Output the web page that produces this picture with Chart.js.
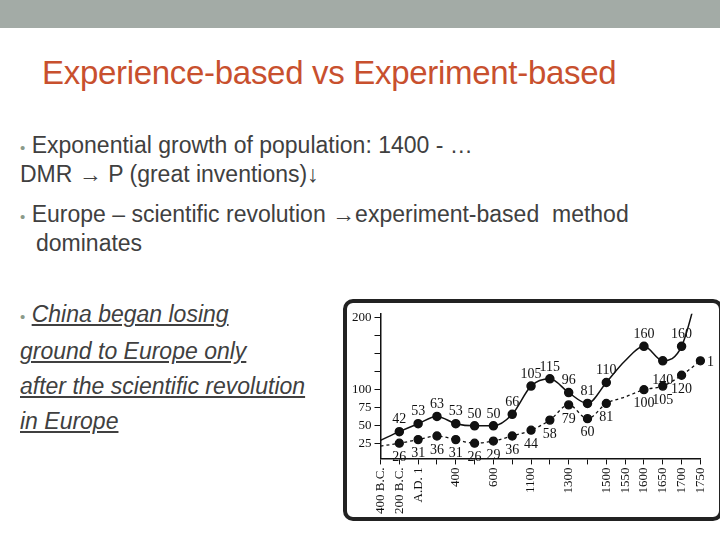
<!DOCTYPE html>
<html><head><meta charset="utf-8">
<script src="https://cdn.jsdelivr.net/npm/chart.js@4/dist/chart.umd.min.js"></script>
<style>
body{margin:0;width:720px;height:540px;background:#fff;position:relative;overflow:hidden;font-family:"Liberation Sans",Arial,sans-serif;color:#404040}
#bar{position:absolute;left:0;top:0;width:720px;height:28px;background:#a3aba6}
#title{position:absolute;left:42px;top:54px;font-size:33px;color:#c8502e;letter-spacing:-0.3px}
.t{position:absolute;font-size:23px;line-height:28px;white-space:nowrap}
.b{color:#8a9a8a;font-size:15px}
#box{position:absolute;left:343px;top:299px;width:380px;height:222px;border:4px solid #222;border-radius:10px;box-sizing:border-box;overflow:hidden}
</style></head><body>
<div id="bar"></div>
<div id="title">Experience-based vs Experiment-based</div>
<div class="t" style="left:20px;top:131px"><span class="b">•</span> Exponential growth of population: 1400 - …</div>
<div class="t" style="left:20px;top:160px">DMR → P (great inventions)↓</div>
<div class="t" style="left:20px;top:200px"><span class="b">•</span> Europe – scientific revolution →experiment-based&nbsp; method</div>
<div class="t" style="left:36px;top:229px">dominates</div>
<div class="t" style="left:20px;top:297px;font-style:italic;line-height:35px"><span class="b" style="font-style:normal">•</span> <u>China began losing</u><br><u>ground to Europe only</u><br><u>after the scientific revolution</u><br><u>in Europe</u></div>
<div id="box"><canvas id="c"></canvas></div>
<script>
const periods = ['400 B.C.','200 B.C.','A.D. 1','','400','','600','','1100','','1300','','1500','1550','1600','1650','1700','1750'];
const solidValues = [30,42,53,63,53,50,50,66,105,115,96,81,110,140,160,140,160,250];
const solidLabels = ['',42,53,63,53,50,50,66,105,115,96,81,110,'',160,140,160,''];
const dashedValues = [22,26,31,36,31,26,29,36,44,58,79,60,81,90,100,105,120,140];
const dashedLabels = ['',26,31,36,31,26,29,36,44,58,79,60,81,'',100,105,120,'1'];
const yTicks = [25,50,75,100,125,150,175,200];
const yShown = [25,50,75,100,200];

const radii = labels => labels.map(l => l === '' ? 0 : 4);
const serif = 'Liberation Serif, Times New Roman, serif';

const valueLabels = {
  id: 'valueLabels',
  afterDatasetsDraw(chart) {
    const ctx = chart.ctx;
    ctx.save();
    ctx.font = '14px ' + serif;
    ctx.fillStyle = '#111';
    ctx.textAlign = 'center';
    ctx.textBaseline = 'middle';
    chart.data.datasets.forEach((ds, di) => {
      chart.getDatasetMeta(di).data.forEach((pt, i) => {
        const l = ds.valueLabels[i];
        if (l === '') return;
        let dy = di === 0 ? -12 : 14, dx = 0;
        if (di === 0 && l === 140) dy = 20;
        if (di === 1 && l === '1') { dx = 10; dy = 2; }
        ctx.fillText(l, pt.x + dx, pt.y + dy);
      });
    });
    ctx.restore();
  }
};

new Chart(document.getElementById('c'), {
  type: 'line',
  data: {
    labels: periods,
    datasets: [
      { data: solidValues, valueLabels: solidLabels, borderColor: '#111', backgroundColor: '#111',
        borderWidth: 1.5, pointRadius: radii(solidLabels), cubicInterpolationMode: 'monotone' },
      { data: dashedValues, valueLabels: dashedLabels, borderColor: '#111', backgroundColor: '#111',
        borderWidth: 1.3, borderDash: [3, 3], pointRadius: radii(dashedLabels), cubicInterpolationMode: 'monotone' }
    ]
  },
  options: {
    responsive: true, maintainAspectRatio: false, animation: false,
    layout: { padding: { left: 2, top: 8, right: -30, bottom: 0 } },
    plugins: { legend: { display: false }, tooltip: { enabled: false } },
    scales: {
      x: {
        offset: false,
        grid: { drawOnChartArea: false, color: '#111', tickLength: 6 },
        border: { color: '#111', width: 1.5 },
        ticks: { color: '#111', font: { family: serif, size: 13 }, minRotation: 90, maxRotation: 90, autoSkip: false }
      },
      y: {
        min: 5, max: 205,
        afterBuildTicks: s => { s.ticks = yTicks.map(v => ({ value: v })); },
        grid: { drawOnChartArea: false, color: '#111', tickLength: 6 },
        border: { color: '#111', width: 1.5 },
        ticks: { color: '#111', font: { family: serif, size: 13 },
          callback: v => yShown.includes(v) ? v : '' }
      }
    }
  },
  plugins: [valueLabels]
});
</script>
</body></html>
